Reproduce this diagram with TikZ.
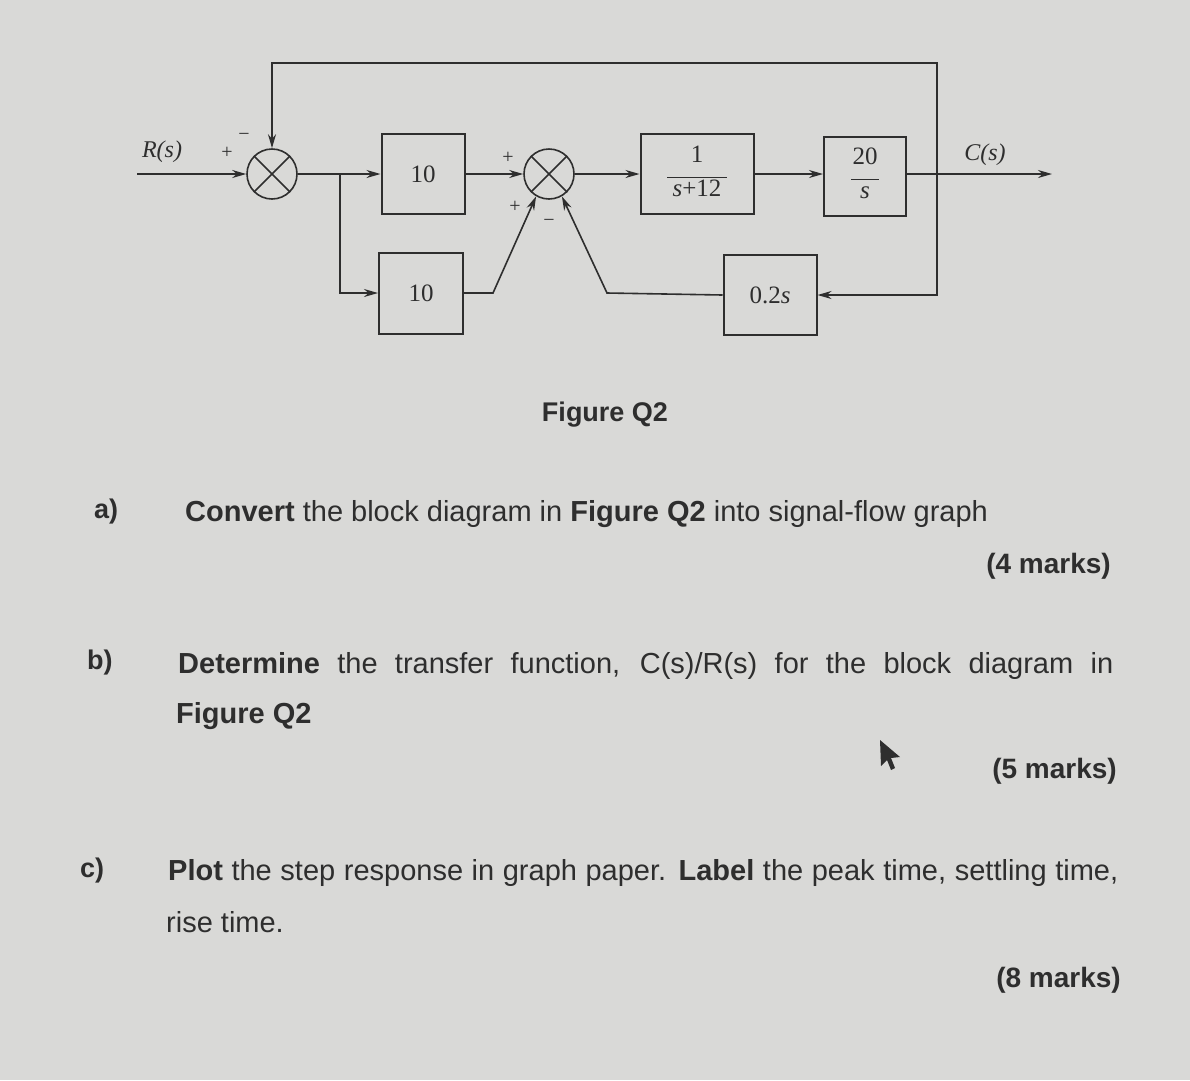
\documentclass[tikz,border=0pt]{standalone}
\usepackage{fontspec}
\setmainfont{Liberation Serif}
\newfontfamily\arial{Liberation Sans}
\usetikzlibrary{arrows.meta}
\definecolor{bg}{HTML}{D9D9D7}
\definecolor{ink}{HTML}{2E2E2E}
\newcommand{\fr}[3]{\begin{tabular}{@{}c@{}}#1\\[-11pt]\rule{#3}{1.2pt}\\[-9pt]#2\end{tabular}}
\begin{document}
\begin{tikzpicture}[x=1pt,y=-1pt,
  blk/.style={draw=ink,line width=2pt,minimum width=#1,inner sep=0pt,font=\fontsize{25}{27}\selectfont,text=ink},
  sumj/.style={draw=ink,line width=1.6pt,circle,minimum size=50pt,inner sep=0pt},
  sig/.style={draw=ink,line width=1.6pt,-{Stealth[length=14pt,width=8pt]}},
  wire/.style={draw=ink,line width=1.6pt},
  sgn/.style={font=\fontsize{20}{20}\selectfont,text=ink,inner sep=0pt},
  lbl/.style={font=\fontsize{24}{26}\selectfont\itshape,text=ink},
  q/.style={font=\arial\fontsize{29}{32}\selectfont,text=ink,anchor=west,inner sep=0pt},
  mk/.style={font=\arial\bfseries\fontsize{28}{32}\selectfont,text=ink,anchor=east,inner sep=0pt}]
\useasboundingbox[fill=bg] (0,0) rectangle (1190,1080);
% nodes
\coordinate (in) at (137,174);
\node[sumj] (s1) at (272,174) {};
\coordinate (br) at (340,174);
\node[blk=83pt,minimum height=80pt] (b1) at (423,174) {10};
\node[blk=84pt,minimum height=81pt] (b2) at (421,293) {10};
\node[sumj] (s2) at (549,174) {};
\node[blk=113pt,minimum height=80pt] (b3) at (697,174) {\fr{1}{\textit{s}+12}{60pt}};
\node[blk=82pt,minimum height=79pt] (b4) at (865,176) {\fr{20}{\textit{s}}{28pt}};
\node[blk=93pt,minimum height=80pt] (b5) at (770,295) {0.2\textit{s}};
\coordinate (tp) at (937,174);
\coordinate (out) at (1052,174);
\foreach \s in {s1,s2}{
  \draw[ink,line width=1.6pt] (\s.north east)--(\s.south west) (\s.north west)--(\s.south east);}
% connectors
\draw[sig] (in) -- (s1.west);
\draw[wire] (s1.east) -- (br);
\draw[sig] (br) -- (b1.west);
\draw[sig] (br) |- (b2.west);
\draw[sig] (b1.east) -- (s2.west);
\draw[sig] (s2.east) -- (b3.west);
\draw[sig] (b3.east) -- (b4.west |- b3.east);
\draw[sig] (b4.east |- out) -- (out);
\draw[sig] (tp) |- (937,63) -| (s1.north);
\draw[sig] (tp) |- (b5.east);
\draw[sig] (b2.east) -- (493,293) -- (s2.-120);
\draw[sig] (b5.west) -- (607,293) -- (s2.-60);
% labels
\node[lbl] (rl) at (162,152) {R(s)};
\node[lbl] (cl) at (985,155) {C(s)};
\node[sgn] (p1) at (227,153) {+};
\node[sgn] (m1) at (244,137) {−};
\node[sgn] (p2) at (508,158) {+};
\node[sgn] (p3) at (515,207) {+};
\node[sgn] (m2) at (549,223) {−};
\node[font=\arial\bfseries\fontsize{27}{30}\selectfont,text=ink] (fig) at (605,415) {Figure Q2};
% questions
\node[q,font=\arial\bfseries\fontsize{27}{30}\selectfont] (qa) at (94,512) {a)};
\node[q] (ta) at (185,514) {\textbf{Convert} the block diagram in \textbf{Figure Q2} into signal-flow graph};
\node[mk] (ma) at (1111,566) {(4 marks)};
\node[q,font=\arial\bfseries\fontsize{27}{30}\selectfont] (qb) at (87,663) {b)};
\node[q] (tb) at (178,666) {\makebox[935pt][s]{\textbf{Determine} the transfer function, C(s)/R(s) for the block diagram in}};
\node[q] (tb2) at (176,716) {\textbf{Figure Q2}};
\node[mk] (mb) at (1117,771) {(5 marks)};
\node[q,font=\arial\bfseries\fontsize{27}{30}\selectfont] (qc) at (80,870) {c)};
\node[q] (tc) at (168,873) {\makebox[950pt][s]{\textbf{Plot} the step response in graph paper. \textbf{Label} the peak time, settling time,}};
\node[q] (tc2) at (166,922) {rise time.};
\node[mk] (mc) at (1121,980) {(8 marks)};
% cursor
\fill[ink] (880,740) -- (900,757) -- (891,758) -- (895,768) -- (891,770) -- (887,760) -- (881,766) -- cycle;
\end{tikzpicture}
\end{document}
